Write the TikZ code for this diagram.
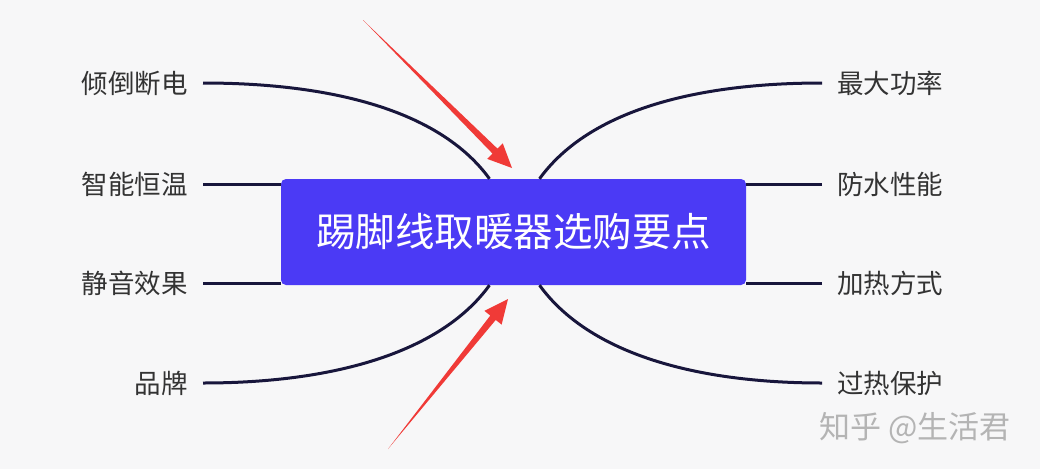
\documentclass[tikz,border=0pt]{standalone}
\usepackage{fontspec}
\setmainfont{Noto Sans CJK SC}
\usetikzlibrary{calc}
\definecolor{hubblue}{RGB}{75,58,245}
\definecolor{linknavy}{RGB}{24,22,60}
\definecolor{pinred}{RGB}{240,58,55}
\definecolor{paper}{RGB}{247,247,248}
\definecolor{leafgray}{RGB}{51,51,51}
\definecolor{markgray}{RGB}{180,180,180}

\begin{document}
\begin{tikzpicture}[x=1pt, y=-1pt,
		leaf/.style={text=leafgray, font=\fontsize{26.5}{26.5}\selectfont, inner xsep=15pt, inner ysep=0pt},
		link/.style={draw=linknavy, line width=3pt}]
		\useasboundingbox[fill=paper] (0,0) rectangle (1040,469);
		\node[fill=hubblue, rounded corners=5pt, minimum width=465pt, minimum height=106pt, text=white, font=\fontsize{39.5}{39.5}\selectfont] (hub) at (513.5,232) {踢脚线取暖器选购要点};
		% left side
		\node[leaf, anchor=east] (L1) at (203,83) {倾倒断电};
		\node[leaf, anchor=east] (L2) at (203,184) {智能恒温};
		\node[leaf, anchor=east] (L3) at (203,283) {静音效果};
		\node[leaf, anchor=east] (L4) at (203,383) {品牌};
		% right side
		\node[leaf, anchor=west] (R1) at (822,83) {最大功率};
		\node[leaf, anchor=west] (R2) at (822,184) {防水性能};
		\node[leaf, anchor=west] (R3) at (822,283) {加热方式};
		\node[leaf, anchor=west] (R4) at (822,383) {过热保护};
		\draw[link] (L1.east) .. controls +(127,0) and +(-50,-69) .. ([xshift=-24pt]hub.north);
		\draw[link] (L2.east) -- (hub.west |- L2.east);
		\draw[link] (L3.east) -- (hub.west |- L3.east);
		\draw[link] (L4.east) .. controls +(127,0) and +(-50,69) .. ([xshift=-24pt]hub.south);
		\draw[link] (R1.west) .. controls +(-125,0) and +(50,-69) .. ([xshift=26pt]hub.north);
		\draw[link] (R2.west) -- (hub.east |- R2.west);
		\draw[link] (R3.west) -- (hub.east |- R3.west);
		\draw[link] (R4.west) .. controls +(-125,0) and +(50,69) .. ([xshift=26pt]hub.south);
		% red pointers
		\coordinate (tail1) at (363,20); \coordinate (tip1) at (512,168);
		\coordinate (tail2) at (388,449); \coordinate (tip2) at (508,299);
		\foreach \t/\h in {tail1/tip1, tail2/tip2} {
			\coordinate (base) at ($(\h)!24pt!(\t)$);
			\fill[pinred] (\t) -- ($(base)!3.5pt!90:(\h)$) -- ($(base)!11pt!90:(\h)$) -- (\h)
				-- ($(base)!11pt!-90:(\h)$) -- ($(base)!3.5pt!-90:(\h)$) -- cycle;
		}
		\node[text=markgray, font=\fontsize{31}{31}\selectfont, anchor=west, inner sep=0pt] (mark) at (819,428) {知乎 @生活君};
\end{tikzpicture}
\end{document}
